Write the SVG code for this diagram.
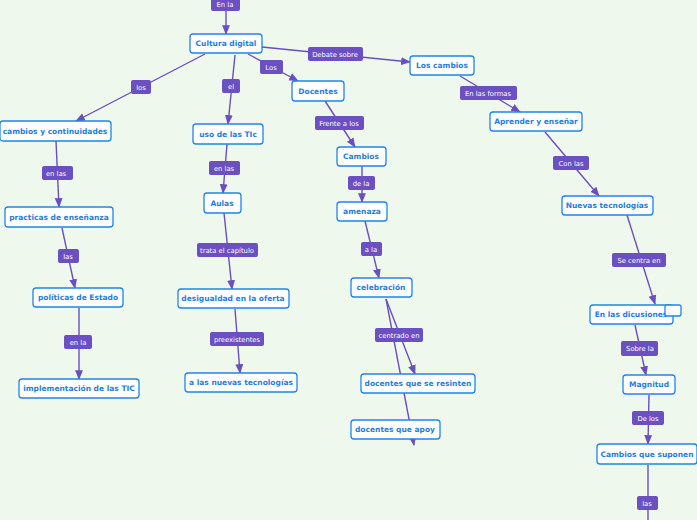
<svg xmlns="http://www.w3.org/2000/svg" width="697" height="520" viewBox="0 0 697 520">
<defs>
<marker id="a" viewBox="0 0 10 10" refX="9" refY="5" markerWidth="7" markerHeight="7" orient="auto"><path d="M0,1 L10,5 L0,9 z" fill="#6a4fc0"/></marker>
<style>
.n rect{fill:#fff;stroke:#1f84e8;stroke-width:1.3}
.n text{fill:#1f7de0;font:bold 7.5px "DejaVu Sans",sans-serif;text-anchor:middle}
.l rect{fill:#6b50c2}
.l text{fill:#fff;font:6.8px "DejaVu Sans",sans-serif;text-anchor:middle}
.c path{stroke:#6a4fc0;stroke-width:1.4;fill:none}
</style>
</defs>
<rect width="697" height="520" fill="#eff8ec"/>
<g class="c">
<path d="M226,0 L226,34" marker-end="url(#a)"/>
<path d="M205,54 L76,121" marker-end="url(#a)"/>
<path d="M235,55 L228,124" marker-end="url(#a)"/>
<path d="M248,54 L298,81" marker-end="url(#a)"/>
<path d="M262,47 L410,62" marker-end="url(#a)"/>
<path d="M56,141 L59,207" marker-end="url(#a)"/>
<path d="M227,144 L223,193" marker-end="url(#a)"/>
<path d="M325,101 L355,147" marker-end="url(#a)"/>
<path d="M460,76 L520,112" marker-end="url(#a)"/>
<path d="M62,228 L75,288" marker-end="url(#a)"/>
<path d="M224,213 L232,289" marker-end="url(#a)"/>
<path d="M362,166 L362,202" marker-end="url(#a)"/>
<path d="M545,132 L599,196" marker-end="url(#a)"/>
<path d="M79,308 L79,379" marker-end="url(#a)"/>
<path d="M235,309 L240,373" marker-end="url(#a)"/>
<path d="M365,221 L379,278" marker-end="url(#a)"/>
<path d="M627,215 L655,304" marker-end="url(#a)"/>
<path d="M386,299 L415,374" marker-end="url(#a)"/>
<path d="M386,299 L414,445" marker-end="url(#a)"/>
<path d="M635,325 L646,375" marker-end="url(#a)"/>
<path d="M649,395 L648,444" marker-end="url(#a)"/>
<path d="M648,465 L648,520"/>
</g>
<g id="n1" class="n"><rect x="190" y="34" width="72" height="19" rx="3"/><text x="226" y="46">Cultura digital</text></g>
<g id="n2" class="n"><rect x="0" y="121" width="111" height="20" rx="3"/><text x="55" y="134">cambios y continuidades</text></g>
<g id="n3" class="n"><rect x="193" y="124" width="70" height="20" rx="3"/><text x="228" y="137">uso de las TIc</text></g>
<g id="n4" class="n"><rect x="292" y="81" width="52" height="20" rx="3"/><text x="318" y="94">Docentes</text></g>
<g id="n5" class="n"><rect x="410" y="56" width="64" height="19" rx="3"/><text x="442" y="68">Los cambios</text></g>
<g id="n6" class="n"><rect x="5" y="207" width="108" height="20" rx="3"/><text x="59" y="220">practicas de enseñanza</text></g>
<g id="n7" class="n"><rect x="204" y="193" width="37" height="20" rx="3"/><text x="222" y="206">Aulas</text></g>
<g id="n8" class="n"><rect x="337" y="147" width="49" height="19" rx="3"/><text x="361" y="159">Cambios</text></g>
<g id="n9" class="n"><rect x="337" y="202" width="50" height="19" rx="3"/><text x="362" y="214">amenaza</text></g>
<g id="n10" class="n"><rect x="490" y="112" width="92" height="19" rx="3"/><text x="536" y="124">Aprender y enseñar</text></g>
<g id="n11" class="n"><rect x="562" y="196" width="91" height="19" rx="3"/><text x="607" y="208">Nuevas tecnologías</text></g>
<g id="n12" class="n"><rect x="33" y="288" width="90" height="19" rx="3"/><text x="78" y="300">políticas de Estado</text></g>
<g id="n13" class="n"><rect x="178" y="289" width="111" height="19" rx="3"/><text x="233" y="301">desigualdad en la oferta</text></g>
<g id="n14" class="n"><rect x="351" y="278" width="61" height="19" rx="3"/><text x="381" y="290">celebración</text></g>
<g id="n15" class="n"><rect x="19" y="379" width="120" height="19" rx="3"/><text x="79" y="391">implementación de las TIC</text></g>
<g id="n16" class="n"><rect x="185" y="373" width="112" height="19" rx="3"/><text x="241" y="385">a las nuevas tecnologías</text></g>
<g id="n17" class="n"><rect x="361" y="374" width="114" height="19" rx="3"/><text x="418" y="386">docentes que se resinten</text></g>
<g id="n18" class="n"><rect x="351" y="420" width="89" height="19" rx="3"/><text x="395" y="432">docentes que apoy</text></g>
<g id="n19" class="n"><rect x="590" y="305" width="83" height="19" rx="3"/><text x="631" y="317">En las dicusiones</text><rect x="665" y="305" width="16" height="11" rx="2"/></g>
<g id="n20" class="n"><rect x="623" y="375" width="52" height="19" rx="3"/><text x="649" y="387">Magnitud</text></g>
<g id="n21" class="n"><rect x="597" y="444" width="100" height="20" rx="3"/><text x="647" y="457">Cambios que suponen</text></g>
<g id="labels">
<g class="l"><rect x="211" y="-3" width="29" height="14" rx="2"/><text x="225" y="7">En la</text></g>
<g class="l"><rect x="131" y="80" width="20" height="14" rx="2"/><text x="141" y="90">los</text></g>
<g class="l"><rect x="222" y="79" width="18" height="14" rx="2"/><text x="231" y="89">el</text></g>
<g class="l"><rect x="260" y="60" width="23" height="14" rx="2"/><text x="271" y="70">Los</text></g>
<g class="l"><rect x="308" y="47" width="55" height="14" rx="2"/><text x="335" y="57">Debate sobre</text></g>
<g class="l"><rect x="315" y="116" width="49" height="14" rx="2"/><text x="339" y="126">Frente a los</text></g>
<g class="l"><rect x="460" y="86" width="57" height="14" rx="2"/><text x="488" y="96">En las formas</text></g>
<g class="l"><rect x="42" y="166" width="31" height="14" rx="2"/><text x="56" y="176">en las</text></g>
<g class="l"><rect x="209" y="161" width="31" height="14" rx="2"/><text x="224" y="171">en las</text></g>
<g class="l"><rect x="348" y="176" width="27" height="14" rx="2"/><text x="361" y="186">de la</text></g>
<g class="l"><rect x="553" y="156" width="36" height="14" rx="2"/><text x="571" y="166">Con las</text></g>
<g class="l"><rect x="58" y="249" width="21" height="14" rx="2"/><text x="68" y="259">las</text></g>
<g class="l"><rect x="197" y="243" width="61" height="14" rx="2"/><text x="227" y="253">trata el capítulo</text></g>
<g class="l"><rect x="361" y="242" width="21" height="14" rx="2"/><text x="371" y="252">a la</text></g>
<g class="l"><rect x="612" y="253" width="54" height="14" rx="2"/><text x="639" y="263">Se centra en</text></g>
<g class="l"><rect x="64" y="335" width="28" height="14" rx="2"/><text x="78" y="345">en la</text></g>
<g class="l"><rect x="210" y="332" width="54" height="14" rx="2"/><text x="237" y="342">preexistentes</text></g>
<g class="l"><rect x="375" y="328" width="48" height="14" rx="2"/><text x="399" y="338">centrado en</text></g>
<g class="l"><rect x="621" y="341" width="37" height="15" rx="2"/><text x="640" y="351">Sobre la</text></g>
<g class="l"><rect x="632" y="411" width="32" height="14" rx="2"/><text x="648" y="421">De los</text></g>
<g class="l"><rect x="637" y="496" width="21" height="14" rx="2"/><text x="647" y="506">las</text></g>
</g>
</svg>
